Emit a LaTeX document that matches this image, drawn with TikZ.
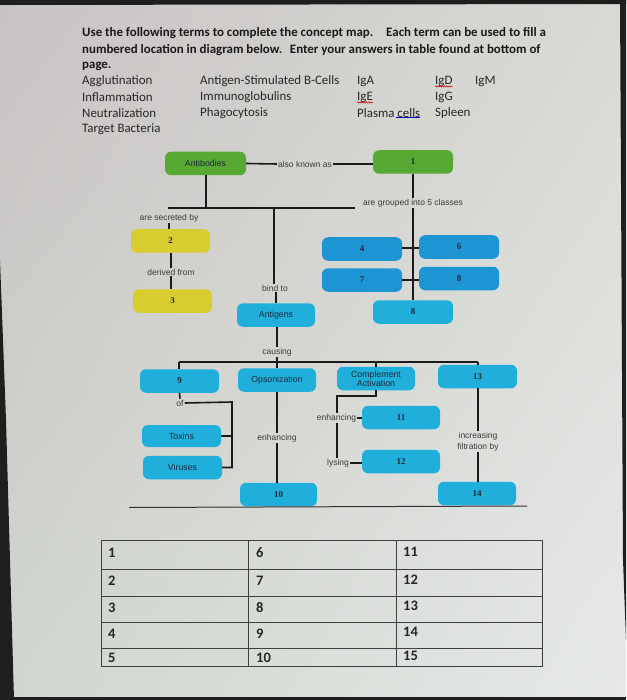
\documentclass[tikz,border=0pt]{standalone}
\usepackage{fontspec}
\setmainfont{Carlito}
\newfontfamily\mapfont{Liberation Sans}
\newfontfamily\numfont{Liberation Serif}
\usetikzlibrary{decorations.pathmorphing,shadings}
\definecolor{bgul}{HTML}{C9C3C4}
\definecolor{bgur}{HTML}{D8DAD4}
\definecolor{bgll}{HTML}{D0D6CE}
\definecolor{bglr}{HTML}{E6E9E7}
\definecolor{gbox}{HTML}{58A834}
\definecolor{ybox}{HTML}{D8CC30}
\definecolor{bbox}{HTML}{1E95D3}
\definecolor{cbox}{HTML}{20AEDA}
\definecolor{btext}{HTML}{1C2A3A}
\definecolor{ltext}{HTML}{3A3A3A}
\definecolor{ink}{HTML}{1A1A1A}
\definecolor{frame}{HTML}{1E1E1E}
\tikzset{
  mbox/.style={fill=#1, rounded corners=6pt, inner sep=0pt, minimum width=79pt, minimum height=23.5pt,
    text=btext, font=\mapfont\fontsize{8.8}{9.5}\selectfont, align=center},
  nbox/.style={mbox=#1, font=\numfont\bfseries\fontsize{9}{9}\selectfont},
  lbl/.style={inner sep=1pt, text=ltext, font=\mapfont\fontsize{8.5}{9.5}\selectfont, align=center},
  conn/.style={draw=ink, line width=1.6pt},
  instr/.style={anchor=west, inner sep=0pt, font=\bfseries\fontsize{12.9}{14}\selectfont, text=black!90},
  term/.style={anchor=west, inner sep=0pt, font=\fontsize{12.9}{14}\selectfont, text=black!85},
  tnum/.style={anchor=west, inner sep=0pt, font=\bfseries\fontsize{14.5}{16}\selectfont, text=black!85},
  tline/.style={draw=black!75, line width=0.9pt}
}
\begin{document}
\begin{tikzpicture}[x=1pt,y=-1pt]
\useasboundingbox (0,0) rectangle (626,700);
\shade[upper left=bgul, upper right=bgur, lower left=bgll, lower right=bglr] (0,0) rectangle (626,700);
% dark frame of the photo
\fill[frame] (0,0) -- (626,0) -- (626,4) -- (0,5) -- cycle;
\fill[frame] (0,260) -- (6,420) -- (14,700) -- (0,700) -- cycle;
\fill[frame] (0,697) -- (626,697) -- (626,700) -- (0,700) -- cycle;
\fill[frame] (620,0) -- (626,0) -- (626,640) -- (623,560) -- cycle;

% instructions
\node[instr] (i1) at (82,33) {Use the following terms to complete the concept map.\hspace{0.7em} Each term can be used to fill a};
\node[instr] (i2) at (82,50) {numbered location in diagram below.\hspace{0.3em} Enter your answers in table found at bottom of};
\node[instr] (i3) at (82,66) {page.};
% terms
\node[term] (t1) at (82,81) {Agglutination};
\node[term] (t2) at (82,97) {Inflammation};
\node[term] (t3) at (82,113) {Neutralization};
\node[term] (t4) at (82,129) {Target Bacteria};
\node[term] (t5) at (200,81) {Antigen-Stimulated B-Cells};
\node[term] (t6) at (200,97) {Immunoglobulins};
\node[term] (t7) at (200,113) {Phagocytosis};
\node[term] (t8) at (357,81) {IgA};
\node[term] (t9) at (357,97) {IgE};
\node[term] (t10) at (357,113) {Plasma cells};
\node[term] (t11) at (435,81) {IgD};
\node[term] (t12) at (435,97) {IgG};
\node[term] (t13) at (435,113) {Spleen};
\node[term] (t14) at (475,81) {IgM};
\draw[red!80!black, line width=0.5pt, decorate, decoration={snake, amplitude=0.6pt, segment length=2.2pt}] (t11.south west) -- (t11.south east);
\draw[red!80!black, line width=0.5pt, decorate, decoration={snake, amplitude=0.6pt, segment length=2.2pt}] (t9.south west) -- (t9.south east);
\draw[blue!70!black, line width=0.6pt] ([xshift=-24pt]t10.south east) -- (t10.south east);

% concept map boxes
\node[mbox=gbox, minimum width=81pt] (ab) at (205.5,163.5) {Antibodies};
\node[nbox=gbox, minimum width=80pt] (n1) at (413,162) {1};
\node[nbox=ybox] (n2) at (170.5,241) {2};
\node[nbox=ybox] (n3) at (172.5,301) {3};
\node[mbox=cbox, minimum width=78pt] (ag) at (276,315) {Antigens};
\node[nbox=bbox, minimum width=80pt] (n4) at (362,249) {4};
\node[nbox=bbox, minimum width=80pt] (n6) at (459,247) {6};
\node[nbox=bbox, minimum width=80pt] (n7) at (362,280) {7};
\node[nbox=bbox, minimum width=80pt] (n5) at (459,278.5) {8};
\node[nbox=cbox, minimum width=80pt] (n8) at (413,312) {8};
\node[nbox=cbox] (n9) at (179.5,381) {9};
\node[mbox=cbox, minimum width=78pt] (op) at (277,380) {Opsonization};
\node[mbox=cbox, minimum width=78pt, font=\mapfont\fontsize{8.8}{9}\selectfont] (ca) at (376,378.5) {Complement\\Activation};
\node[nbox=cbox] (n13) at (477.5,376.5) {13};
\node[mbox=cbox, minimum height=22pt] (tox) at (181.5,436) {Toxins};
\node[mbox=cbox] (vir) at (182.5,467.5) {Viruses};
\node[nbox=cbox, minimum width=77pt] (n10) at (278.5,494.5) {10};
\node[nbox=cbox, minimum width=78pt] (n11) at (401,417.5) {11};
\node[nbox=cbox, minimum width=78pt] (n12) at (401,461.5) {12};
\node[nbox=cbox, minimum width=78pt] (n14) at (477,493.5) {14};

% labels
\node[lbl] (akn) at (305,164) {also known as};
\node[lbl] (agc) at (413,203) {are grouped into 5 classes};
\node[lbl] (asb) at (169,218) {are secreted by};
\node[lbl] (df) at (171,272) {derived from};
\node[lbl] (bt) at (275,288) {bind to};
\node[lbl] (cs) at (277,352) {causing};
\node[lbl] (of) at (180,403) {of};
\node[lbl] (en1) at (277,438) {enhancing};
\node[lbl] (en2) at (336.5,418) {enhancing};
\node[lbl] (ly) at (338,463) {lysing};
\node[lbl, font=\mapfont\fontsize{8.5}{11}\selectfont] (ifb) at (478,441.5) {increasing\\filtration by};

% junction coordinates
\coordinate (hl) at (168,208);
\coordinate (hr) at (355,208);
\coordinate (ja) at (206,208);
\coordinate (jb) at (274,208);
\coordinate (cl) at (179,362);
\coordinate (cr) at (478,362);
\coordinate (cm) at (277,362);
\coordinate (cc) at (376,362);
\coordinate (br) at (232,402);
\coordinate (cb) at (376,396);
\coordinate (cbl) at (337,396);

% connectors
\draw[conn] (ab.east) -- (akn.west);
\draw[conn] (akn.east) -- (akn.east -| n1.west);
\draw[conn] (ab.south -| ja) -- (ja);
\draw[conn] (hl) -- (hr);
\draw[conn] (n1.south) -- (agc.north);
\draw[conn] (agc.south) -- (n8.north);
\draw[conn] (n4.east |- 0,248) -- (n6.west |- 0,248);
\draw[conn] (n7.east |- 0,280) -- (n5.west |- 0,280);
\draw[conn] (asb.south) -- (asb.south |- n2.north);
\draw[conn] (n2.south -| df.north) -- (df.north);
\draw[conn] (df.south) -- (df.south |- n3.north);
\draw[conn] (jb) -- (jb |- bt.north);
\draw[conn] (bt.south -| ag.north) -- (ag.north);
\draw[conn] (ag.south -| cs.north) -- (cs.north);
\draw[conn] (cs.south) -- (cm);
\draw[conn] (cl) -- (cr);
\draw[conn] (cl) -- (cl |- n9.north);
\draw[conn] (cm) -- (cm |- op.north);
\draw[conn] (cc) -- (cc |- ca.north);
\draw[conn] (cr) -- (cr |- n13.north);
\draw[conn] (n9.south) -- (of.north);
\draw[conn] (of.east) -- (br) -- (br |- vir.east) -- (vir.east);
\draw[conn] (tox.east) -- (tox.east -| br);
\draw[conn] (op.south -| en1.north) -- (en1.north);
\draw[conn] (en1.south) -- (en1.south |- n10.north);
\draw[conn] (ca.south -| cb) -- (cb) -- (cbl) -- (cbl |- en2.north);
\draw[conn] (en2.east) -- (en2.east -| n11.west);
\draw[conn] (en2.south -| cbl) -- (cbl |- ly.north);
\draw[conn] (ly.east) -- (ly.east -| n12.west);
\draw[conn] (n13.south -| ifb.north) -- (ifb.north);
\draw[conn] (ifb.south) -- (ifb.south |- n14.north);
% rule under the map
\coordinate (rl) at (129,507.5);
\coordinate (rr) at (527,506);
\draw[draw=black!80, line width=1pt] (rl) -- (rr);

% answer table
\draw[tline] (101,540) rectangle (542,666);
\foreach \yy in {569,596,622,648} \draw[tline] (101,\yy) -- (542,\yy);
\foreach \xx in {248,396} \draw[tline] (\xx,540) -- (\xx,666);
\foreach \n/\yy in {1/553,2/581,3/608,4/634,5/658} {
  \node[tnum] (a\n) at (108,\yy) {\n};
}
\foreach \n/\yy in {6/553,7/581,8/608,9/634,10/658} {
  \node[tnum] (b\n) at (256,\yy) {\n};
}
\foreach \n/\yy in {11/552,12/580,13/606,14/632,15/656} {
  \node[tnum] (c\n) at (403,\yy) {\n};
}
\end{tikzpicture}
\end{document}
